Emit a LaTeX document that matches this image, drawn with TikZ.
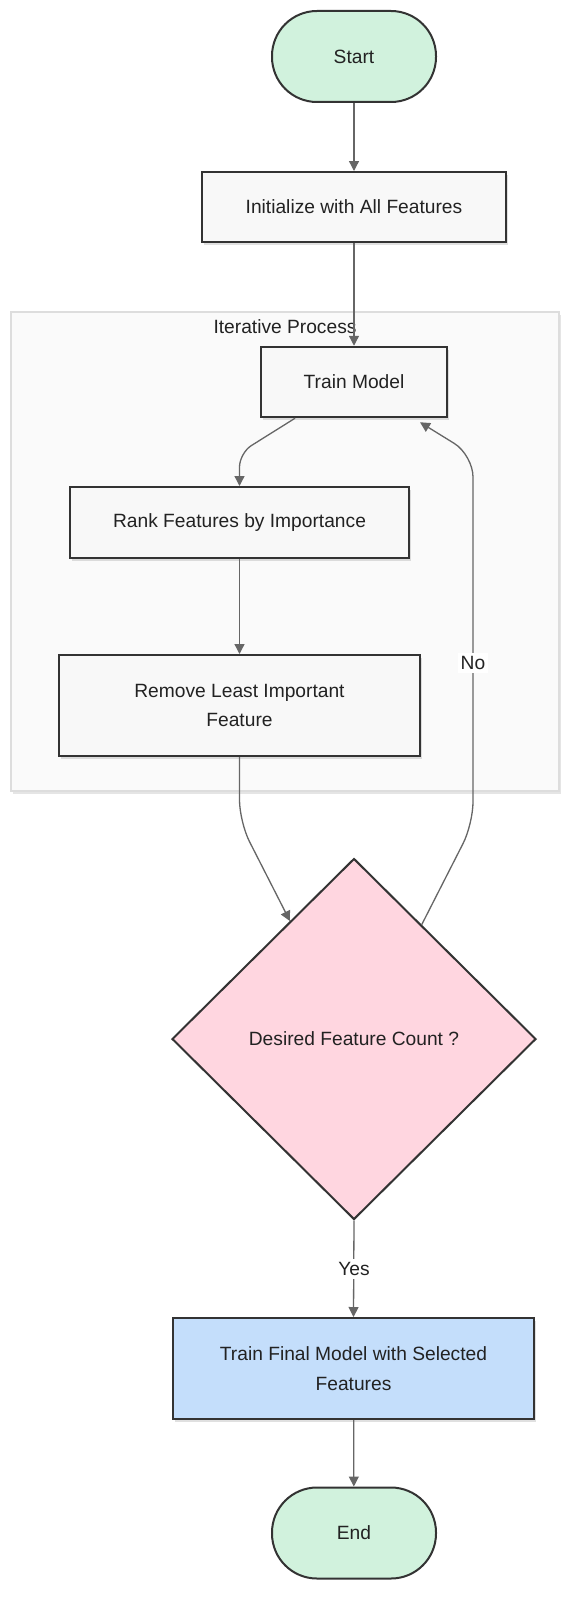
\documentclass[tikz,border=0pt]{standalone}
\usepackage{fontspec}
\setmainfont{Liberation Sans}
\usetikzlibrary{shapes.geometric, arrows.meta, calc, shadows}
\definecolor{mint}{HTML}{D1F2DD}
\definecolor{pinkfill}{HTML}{FFD6E0}
\definecolor{bluefill}{HTML}{C4DEFB}
\definecolor{boxfill}{HTML}{F8F8F8}
\definecolor{clusterfill}{HTML}{FAFAFA}
\definecolor{clusterstroke}{HTML}{DDDDDD}
\definecolor{nodestroke}{HTML}{333333}
\definecolor{edgec}{HTML}{666666}
\definecolor{txt}{HTML}{222222}
\begin{document}
\begin{tikzpicture}[x=1pt, y=-1pt,
  font=\fontsize{19.2}{29.5}\selectfont,
  base/.style={draw=nodestroke, line width=2pt, text=txt, inner sep=0pt, align=center},
  softshadow/.style={drop shadow={shadow xshift=2pt, shadow yshift=-2.5pt, opacity=0.12, fill=black}},
  term/.style={base, fill=mint, rounded corners=45pt, minimum width=164pt, minimum height=91pt},
  proc/.style={base, fill=boxfill, softshadow},
  decision/.style={base, diamond, fill=pinkfill, aspect=1, minimum width=364pt, minimum height=361pt},
  final/.style={base, fill=bluefill, softshadow},
  edge/.style={draw=edgec, line width=1.3pt, -{Triangle[length=10pt, width=10pt]}},
  lbl/.style={fill=white, text=txt, inner sep=3pt},
  clusterbox/.style={draw=clusterstroke, fill=clusterfill, line width=1.3pt,
    drop shadow={shadow xshift=2pt, shadow yshift=-2.5pt, opacity=0.10, fill=black}}
]
\useasboundingbox (0,0) rectangle (573,1600);
\fill[white] (0,0) rectangle (573,1600);

% cluster
\node[clusterbox, minimum width=548pt, minimum height=479pt] (cluster) at (285,551.5) {};
\node[text=txt, inner sep=0pt] (clbl) at (285,327) {Iterative Process};

% nodes
\node[term] (start) at (354,56.5) {Start};
\node[proc, minimum width=304pt, minimum height=70pt] (init) at (354,207) {Initialize with All Features};
\node[proc, minimum width=186pt, minimum height=70pt, line width=2.5pt] (train) at (354,382) {Train Model};
\node[proc, minimum width=339pt, minimum height=71pt] (rank) at (239.5,522.5) {Rank Features by Importance};
\node[proc, minimum width=361pt, minimum height=101pt] (remove) at (239.5,705.5) {Remove Least Important\\Feature};
\node[decision] (dia) at (354,1039) {Desired Feature Count ?};
\node[final, minimum width=361pt, minimum height=101pt] (fin) at (353.5,1368.5) {Train Final Model with Selected\\Features};
\node[term] (end) at (354,1533) {End};

% edges
\draw[edge] (start) -- (init);
\draw[edge] (init) -- (train);
\draw[edge, rounded corners=14pt] ([xshift=-59pt]train.south) -- (239.5,453) -- (rank.north);
\draw[edge] (rank) -- (remove);
\draw[edge, rounded corners=22pt] (remove.south) -- (239.5,822) -- ($(dia.north)!0.35!(dia.west)$);
\draw[edge, rounded corners=22pt] ($(dia.north)!0.37!(dia.east)$) -- (473,824) -- (473,455) -- ([xshift=66pt, yshift=-4pt]train.south);
\node[lbl] (nolbl) at (473,663) {No};
\draw[edge] (dia.south) -- (fin.north);
\node[lbl] (yeslbl) at (354,1269) {Yes};
\draw[edge] (fin) -- (end);
\end{tikzpicture}
\end{document}
